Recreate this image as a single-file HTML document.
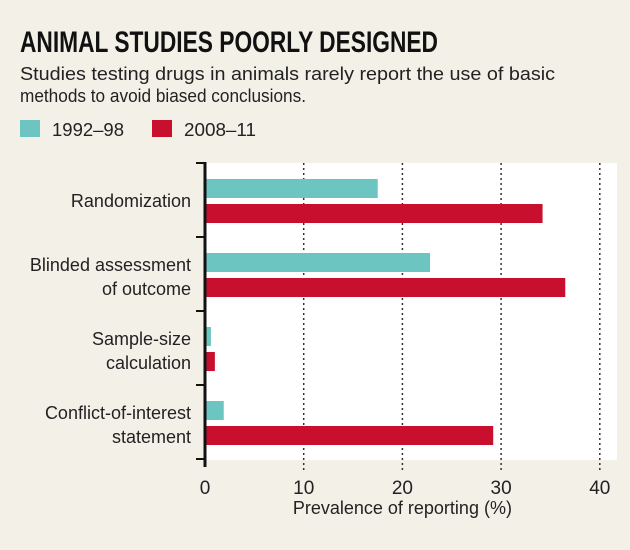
<!DOCTYPE html>
<html><head><meta charset="utf-8"><style>
body{margin:0;width:630px;height:545px;background:#f3f0e8;font-family:"Liberation Sans",sans-serif;overflow:hidden}
</style></head><body>
<svg width="630" height="545" xmlns="http://www.w3.org/2000/svg">
<text x="20" y="52" font-size="30" font-weight="bold" fill="#111" font-family="Liberation Sans Narrow, Liberation Sans, sans-serif" textLength="418" lengthAdjust="spacingAndGlyphs">ANIMAL STUDIES POORLY DESIGNED</text>
<text x="20" y="80" font-size="18" fill="#222" textLength="535" lengthAdjust="spacingAndGlyphs">Studies testing drugs in animals rarely report the use of basic</text>
<text x="20" y="102" font-size="18" fill="#222" textLength="286" lengthAdjust="spacingAndGlyphs">methods to avoid biased conclusions.</text>
<rect x="20" y="120" width="20" height="17" fill="#6cc5c1"/>
<text x="52" y="136" font-size="18" fill="#222" textLength="72" lengthAdjust="spacingAndGlyphs">1992–98</text>
<rect x="152" y="120" width="20" height="17" fill="#c8102e"/>
<text x="184" y="136" font-size="18" fill="#222" textLength="72" lengthAdjust="spacingAndGlyphs">2008–11</text>
<rect x="205" y="163" width="412" height="297" fill="#fff"/>
<g id="g"></g>
</svg>
<script>
const categories=[["Randomization"],["Blinded assessment","of outcome"],["Sample-size","calculation"],["Conflict-of-interest","statement"]];
const series1992=[17.5,22.8,0.6,1.9];
const series2008=[34.2,36.5,1.0,29.2];
const ticks=[0,10,20,30,40];
const g=document.getElementById('g');
const NS='http://www.w3.org/2000/svg';
const x=v=>205+v*9.87;
const bandTop=i=>163+i*74;
function el(t,a,txt){const e=document.createElementNS(NS,t);for(const k in a)e.setAttribute(k,a[k]);if(txt!=null)e.textContent=txt;g.appendChild(e);return e;}
ticks.forEach((t,i)=>{
 if(t>0){const l=el('line',{x1:x(t),x2:x(t),y1:163,y2:472,stroke:'#333','stroke-width':1.5,'stroke-dasharray':'2,3'});
 
 }
 const tx=el('text',{x:x(t),y:494,'font-size':19,fill:'#222','text-anchor':'middle'},t);
 
 
});
categories.forEach((c,i)=>{
 const t=bandTop(i);
 const b1=el('rect',{x:x(0),y:t+16,width:x(series1992[i])-x(0),height:19,fill:'#6cc5c1'});
 
 
 const b2=el('rect',{x:x(0),y:t+41,width:x(series2008[i])-x(0),height:19,fill:'#c8102e'});
 
 
 const mid=t+38;
 c.forEach((ln,j)=>{
  const y=c.length==1?mid+6:mid-4+j*24;
  const lt=el('text',{x:191,y:y,'font-size':18,fill:'#222','text-anchor':'end'},ln);
  
  
 });
});
for(let i=0;i<=4;i++){const tk=el('line',{x1:196,x2:205,y1:bandTop(i),y2:bandTop(i),stroke:'#111','stroke-width':2});
 
 }
const ax=el('line',{x1:205,x2:205,y1:162,y2:467,stroke:'#111','stroke-width':3});


const xt=el('text',{x:x(20),y:514,'font-size':18,fill:'#222','text-anchor':'middle'},'Prevalence of reporting (%)');


</script>
</body></html>
